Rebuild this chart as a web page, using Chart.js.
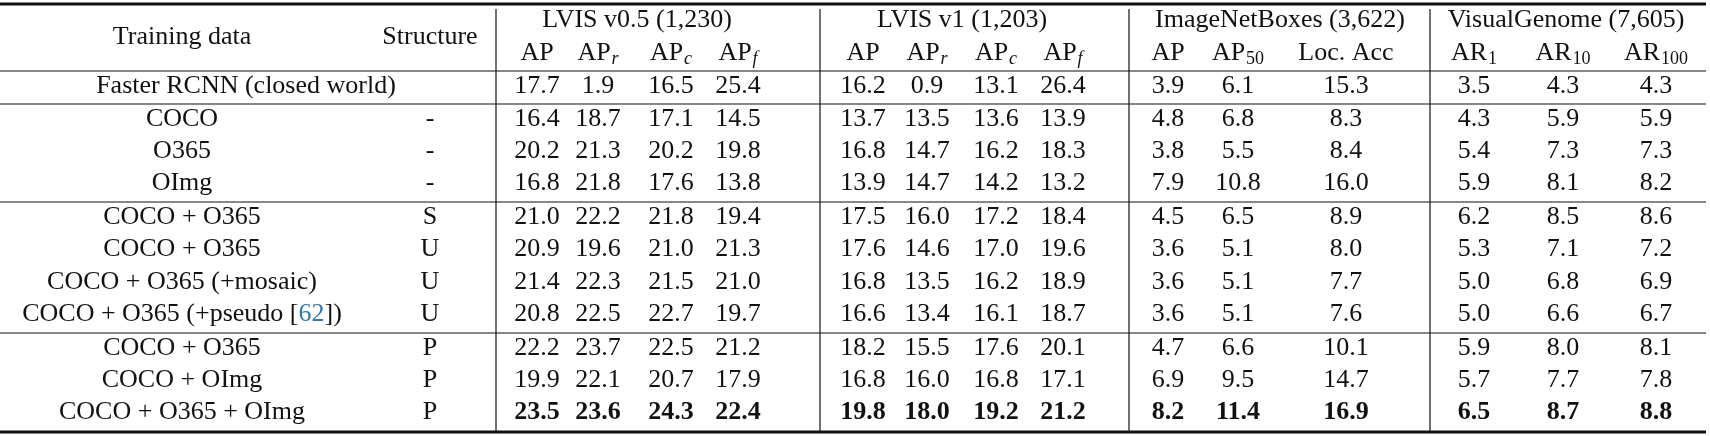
<!DOCTYPE html>
<html><head><meta charset="utf-8">
<script src="https://cdn.jsdelivr.net/npm/chart.js@4"></script>
<style>body{margin:0;background:#fff}canvas{display:block}</style>
</head><body><canvas id="c" width="1710" height="436"></canvas>
<script>
const groups = ["LVIS v0.5 (1,230)", "LVIS v1 (1,203)", "ImageNetBoxes (3,622)", "VisualGenome (7,605)"];
const metricBase = ["AP","AP","AP","AP","AP","AP","AP","AP","AP","AP","Loc. Acc","AR","AR","AR"];
const metricSub = ["","r","c","f","","r","c","f","","50","","1","10","100"];
const trainingData = ["COCO","O365","OImg","COCO + O365","COCO + O365","COCO + O365 (+mosaic)","COCO + O365 (+pseudo [62])","COCO + O365","COCO + OImg","COCO + O365 + OImg"];
const structure = ["-","-","-","S","U","U","U","P","P","P"];
const baseline = ["17.7","1.9","16.5","25.4","16.2","0.9","13.1","26.4","3.9","6.1","15.3","3.5","4.3","4.3"];
const values = [
["16.4","18.7","17.1","14.5","13.7","13.5","13.6","13.9","4.8","6.8","8.3","4.3","5.9","5.9"],
["20.2","21.3","20.2","19.8","16.8","14.7","16.2","18.3","3.8","5.5","8.4","5.4","7.3","7.3"],
["16.8","21.8","17.6","13.8","13.9","14.7","14.2","13.2","7.9","10.8","16.0","5.9","8.1","8.2"],
["21.0","22.2","21.8","19.4","17.5","16.0","17.2","18.4","4.5","6.5","8.9","6.2","8.5","8.6"],
["20.9","19.6","21.0","21.3","17.6","14.6","17.0","19.6","3.6","5.1","8.0","5.3","7.1","7.2"],
["21.4","22.3","21.5","21.0","16.8","13.5","16.2","18.9","3.6","5.1","7.7","5.0","6.8","6.9"],
["20.8","22.5","22.7","19.7","16.6","13.4","16.1","18.7","3.6","5.1","7.6","5.0","6.6","6.7"],
["22.2","23.7","22.5","21.2","18.2","15.5","17.6","20.1","4.7","6.6","10.1","5.9","8.0","8.1"],
["19.9","22.1","20.7","17.9","16.8","16.0","16.8","17.1","6.9","9.5","14.7","5.7","7.7","7.8"],
["23.5","23.6","24.3","22.4","19.8","18.0","19.2","21.2","8.2","11.4","16.9","6.5","8.7","8.8"]
];
const boldRow = 9;

// layout (pixel-space units of the scales)
const colX = [537,598,671,738, 863,927,996,1063, 1168,1238,1346, 1474,1563,1656];
const groupX = [637,962,1280,1566];
const vLines = [496,820,1129,1430];
const rowY = [119,151,183,217,249,282,314,348,380,412];
const hThin = [71,104,202,333];
const hThick = [4,432];

const F = '"Liberation Serif","DejaVu Serif",serif';
const FS = 26, SS = 18;
const tablePlugin = {
  id:'table',
  afterDraw(chart){
    const ctx = chart.ctx, xs = chart.scales.x, ys = chart.scales.y;
    const X = v=>xs.getPixelForValue(v), Y = v=>ys.getPixelForValue(v);
    ctx.save();
    ctx.fillStyle='#111'; ctx.strokeStyle='#111';
    ctx.textBaseline='middle';
    function txt(s,x,y,bold,align){ctx.font=(bold?'bold ':'')+FS+'px '+F;ctx.textAlign=align||'center';ctx.fillText(s,x,y);}
    function subTxt(b,s,x,y){
      ctx.font=FS+'px '+F; const wb=ctx.measureText(b).width;
      const ital=/^[rcf]$/.test(s);
      const sf=(ital?'italic ':'')+SS+'px '+F;
      ctx.font=sf; const ws=s?ctx.measureText(s).width+1:0;
      const x0=x-(wb+ws)/2;
      ctx.textAlign='left'; ctx.font=FS+'px '+F; ctx.fillText(b,x0,y);
      if(s){ctx.font=sf; ctx.fillText(s,x0+wb+1,y+6);}
    }
    hThick.forEach(v=>{ctx.lineWidth=3;ctx.beginPath();ctx.moveTo(X(0),Y(v));ctx.lineTo(X(1706),Y(v));ctx.stroke();});
    hThin.forEach(v=>{ctx.lineWidth=1.2;ctx.beginPath();ctx.moveTo(X(0),Y(v));ctx.lineTo(X(1706),Y(v));ctx.stroke();});
    vLines.forEach(v=>{ctx.lineWidth=1.2;ctx.beginPath();ctx.moveTo(X(v),Y(9));ctx.lineTo(X(v),Y(431));ctx.stroke();});
    txt('Training data',X(182),Y(37));
    txt('Structure',X(430),Y(37));
    groups.forEach((g,i)=>txt(g,X(groupX[i]),Y(20)));
    metricBase.forEach((b,i)=>subTxt(b,metricSub[i],X(colX[i]),Y(53)));
    txt('Faster RCNN (closed world)',X(246),Y(86));
    baseline.forEach((v,i)=>txt(v,X(colX[i]),Y(86)));
    trainingData.forEach((t,r)=>{
      const y=Y(rowY[r]);
      if(t.includes('[62]')){
        ctx.font=FS+'px '+F;
        const parts=['COCO + O365 (+pseudo [','62','])'];
        const w=parts.map(p=>ctx.measureText(p).width);
        let x=X(182)-(w[0]+w[1]+w[2])/2; ctx.textAlign='left';
        parts.forEach((p,k)=>{ctx.fillStyle=k===1?'#2a7ab8':'#111';ctx.fillText(p,x,y);x+=w[k];});
        ctx.fillStyle='#111';
      } else txt(t,X(182),y);
      txt(structure[r],X(430),y);
      values[r].forEach((v,i)=>txt(v,X(colX[i]),y,r===boldRow));
    });
    ctx.restore();
  }
};
new Chart(document.getElementById('c'),{
  type:'scatter',
  data:{datasets:[{data:[]}]},
  options:{responsive:false,animation:false,devicePixelRatio:1,
    layout:{padding:0},
    plugins:{legend:{display:false},tooltip:{enabled:false}},
    scales:{x:{type:'linear',min:0,max:1710,display:false},
            y:{type:'linear',min:0,max:436,reverse:true,display:false}}},
  plugins:[tablePlugin]
});
</script></body></html>
